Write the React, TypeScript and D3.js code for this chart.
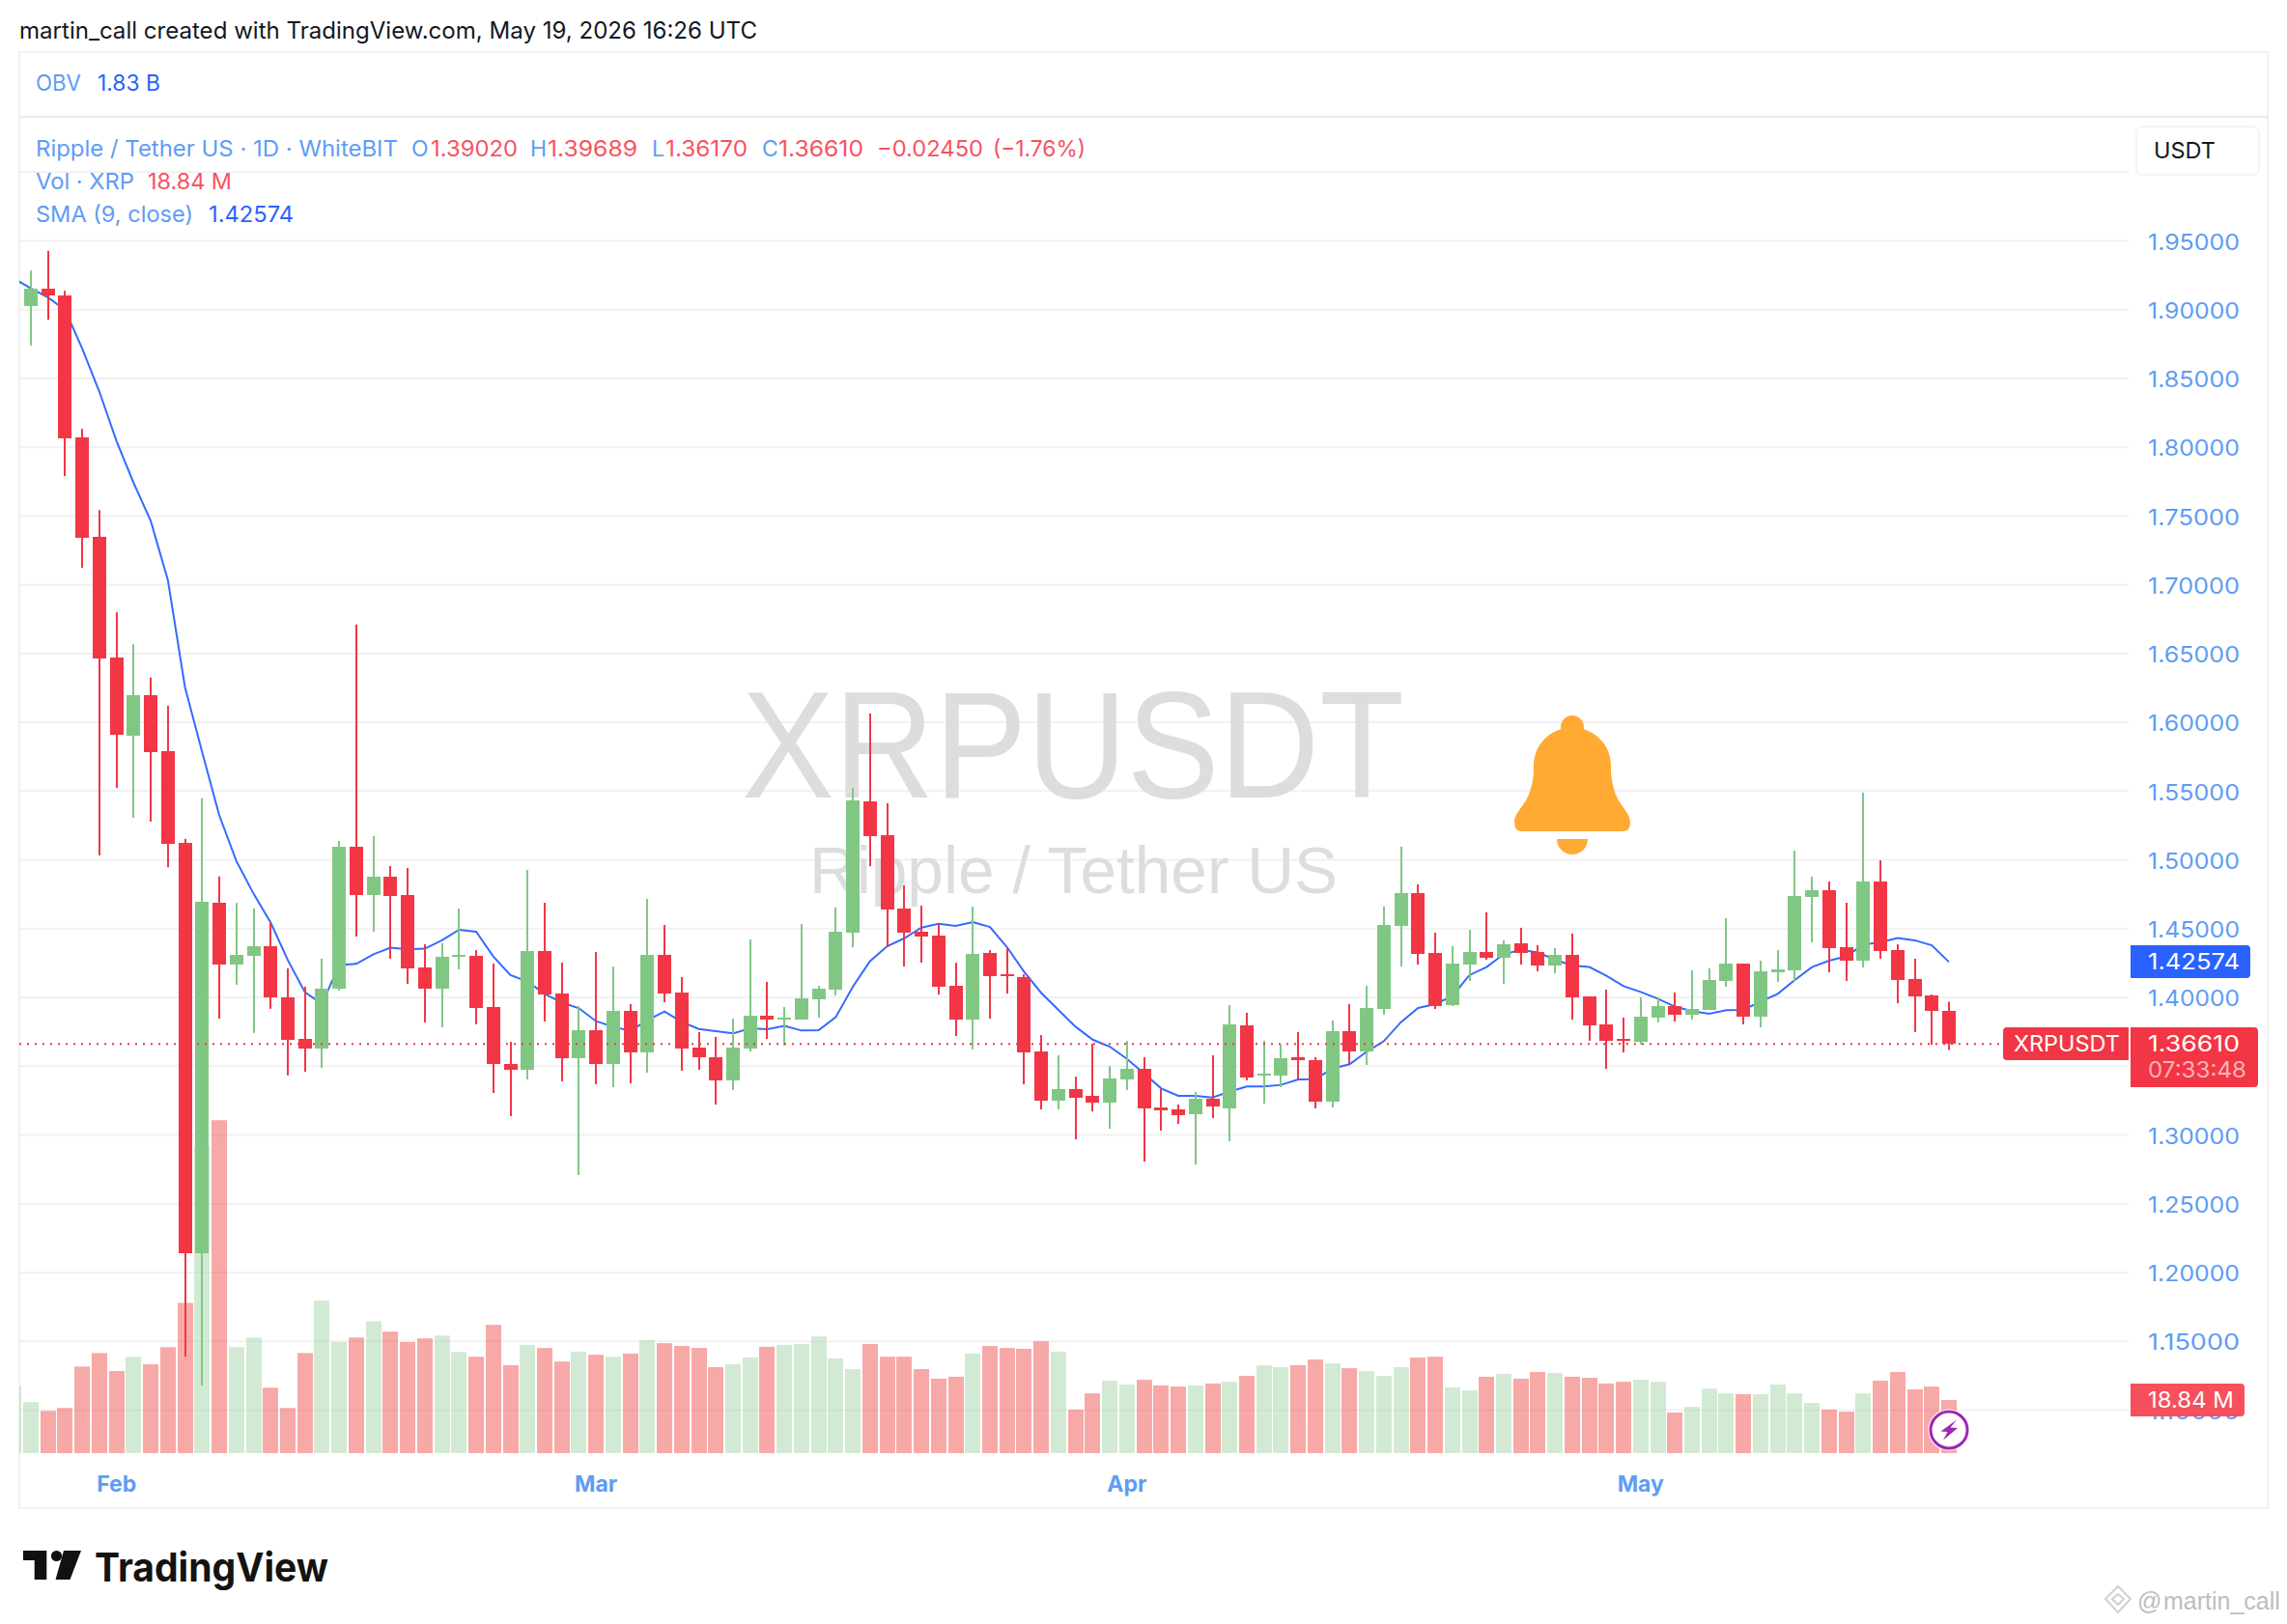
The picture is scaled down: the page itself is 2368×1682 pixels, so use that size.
import React from "react";
import * as d3 from "d3";

const opens = [
  1.9025,1.9151,1.9106,1.8072,1.7351,1.6473,1.5905,1.6196,1.5788,1.5121,
  1.2141,1.4687,1.4239,1.4302,1.4374,1.4002,1.3698,1.3628,1.4064,1.5095,
  1.4744,1.4878,1.4744,1.4218,1.4064,1.4295,1.4302,1.3930,1.3516,1.3474,
  1.4337,1.4028,1.3558,1.3762,1.3516,1.3902,1.3600,1.4309,1.4035,1.3635,
  1.3565,1.3397,1.3628,1.3867,1.3839,1.3838,1.3986,1.4056,1.4470,1.5425,
  1.5179,1.4646,1.4477,1.4449,1.4084,1.3838,1.4323,1.4168,1.4147,1.3607,
  1.3249,1.3333,1.3284,1.3235,1.3403,1.3480,1.3199,1.3185,1.3150,1.3263,
  1.3192,1.3797,1.3432,1.3432,1.3565,1.3544,1.3242,1.3755,1.3607,1.3916,
  1.4520,1.4759,1.4323,1.3944,1.4239,1.4330,1.4288,1.4394,1.4330,1.4232,
  1.4309,1.4008,1.3804,1.3699,1.3678,1.3853,1.3937,1.3874,1.3909,1.4120,
  1.4246,1.3860,1.4183,1.4197,1.4730,1.4780,1.4365,1.4267,1.4843,1.4344,
  1.4134,1.4014,1.3902,
];
const highs = [
  1.9285,1.9428,1.9137,1.8134,1.7543,1.6800,1.6567,1.6326,1.6120,1.5153,
  1.5448,1.4880,1.4687,1.4647,1.4544,1.4212,1.4078,1.4281,1.5138,1.6711,
  1.5173,1.4955,1.4941,1.4386,1.4393,1.4646,1.4344,1.4246,1.3677,1.4927,
  1.4688,1.4253,1.3937,1.4330,1.4225,1.3951,1.4716,1.4527,1.4148,1.3748,
  1.3713,1.3846,1.4422,1.4113,1.3930,1.4533,1.4084,1.4653,1.5523,1.6064,
  1.5411,1.4814,1.4667,1.4533,1.4252,1.4660,1.4344,1.4365,1.4168,1.3726,
  1.3579,1.3424,1.3663,1.3501,1.3684,1.3565,1.3333,1.3221,1.3312,1.3579,
  1.3944,1.3888,1.3685,1.3657,1.3748,1.3565,1.3832,1.3951,1.4085,1.4660,
  1.5096,1.4822,1.4471,1.4373,1.4492,1.4618,1.4415,1.4506,1.4380,1.4359,
  1.4464,1.4008,1.4057,1.3853,1.4001,1.4001,1.4036,1.4197,1.4211,1.4576,
  1.4246,1.4267,1.4344,1.5067,1.4878,1.4843,1.4688,1.5489,1.4997,1.4386,
  1.4281,1.4021,1.39689,
];
const lows = [
  1.8739,1.8927,1.7790,1.7123,1.5032,1.5524,1.5305,1.5278,1.4947,1.1389,
  1.1179,1.3845,1.4092,1.3742,1.3917,1.3433,1.3460,1.3488,1.4049,1.4443,
  1.4478,1.4281,1.4099,1.3818,1.3783,1.4204,1.3804,1.3305,1.3137,1.3404,
  1.3825,1.3390,1.2709,1.3369,1.3347,1.3376,1.3453,1.3965,1.3467,1.3474,
  1.3221,1.3326,1.3607,1.3698,1.3649,1.3838,1.3852,1.4014,1.4365,1.4954,
  1.4365,1.4224,1.4252,1.4021,1.3719,1.3621,1.3845,1.4028,1.3368,1.3185,
  1.3185,1.2968,1.3171,1.3045,1.3326,1.2806,1.3031,1.3080,1.2785,1.3122,
  1.2954,1.3397,1.3228,1.3348,1.3404,1.3193,1.3200,1.3516,1.3509,1.3874,
  1.4225,1.4239,1.3916,1.3937,1.4120,1.4274,1.4099,1.4239,1.4190,1.4176,
  1.3839,1.3685,1.3481,1.3600,1.3657,1.3818,1.3825,1.3839,1.3909,1.4078,
  1.3804,1.3783,1.4113,1.4120,1.4400,1.4183,1.4120,1.4218,1.4281,1.3958,
  1.3748,1.3656,1.3617,
];
const closes = [
  1.9151,1.9106,1.8063,1.7342,1.6464,1.5909,1.6196,1.5784,1.5117,1.2141,
  1.4696,1.4239,1.4311,1.4374,1.4002,1.3693,1.3628,1.4064,1.5095,1.4744,
  1.4878,1.4737,1.4211,1.4064,1.4295,1.4309,1.3923,1.3516,1.3474,1.4337,
  1.4021,1.3558,1.3762,1.3516,1.3902,1.3600,1.4309,1.4028,1.3628,1.3565,
  1.3397,1.3635,1.3867,1.3839,1.3853,1.3993,1.4063,1.4477,1.5432,1.5172,
  1.4639,1.4470,1.4442,1.4077,1.3838,1.4316,1.4154,1.4154,1.3600,1.3249,
  1.3333,1.3270,1.3235,1.3410,1.3480,1.3192,1.3178,1.3143,1.3263,1.3207,
  1.3803,1.3418,1.3446,1.3558,1.3544,1.3242,1.3755,1.3607,1.3923,1.4527,
  1.4759,1.4316,1.3937,1.4246,1.4330,1.4288,1.4387,1.4323,1.4232,1.4309,
  1.4001,1.3797,1.3685,1.3685,1.3860,1.3937,1.3874,1.3916,1.4127,1.4246,
  1.3860,1.4190,1.4204,1.4737,1.4780,1.4358,1.4267,1.4843,1.4337,1.4127,
  1.4007,1.3902,1.3661,
];
// Volume in millions; the first entry belongs to the bar clipped at the left edge.
const clippedVolume = 23.9;
const clippedUp = true;
const volumes = [
  18.1,15.0,16.0,30.7,35.5,29.1,34.2,31.5,37.6,53.3,
  108.9,118.1,37.6,41.0,23.2,16.0,35.5,54.1,39.4,41.0,
  46.8,43.1,39.4,40.7,41.7,35.9,34.2,45.5,31.2,38.4,
  37.3,32.5,36.0,34.9,34.2,35.3,40.1,39.0,38.0,37.3,
  30.5,31.5,33.9,37.7,38.4,38.7,41.4,33.6,29.8,38.7,
  34.2,34.2,29.8,26.4,27.1,35.3,38.0,37.3,37.0,39.7,
  36.0,15.4,21.2,25.7,24.3,26.0,24.0,23.6,24.0,24.7,
  25.3,27.4,31.2,30.5,31.2,33.2,31.8,30.1,29.1,27.4,
  30.5,33.9,34.2,23.3,22.3,27.1,28.1,26.4,28.8,28.4,
  27.1,26.7,24.7,25.3,26.0,25.3,14.4,16.4,22.9,21.2,
  20.9,20.9,24.3,21.2,17.8,15.4,14.7,21.2,25.7,28.8,
  22.6,23.6,18.84,
];
// SMA(9) — first value is at index -1, off the left edge of the plot.
const sma = [
  1.9227,1.9155,1.9088,1.8998,1.8716,1.8403,1.8045,1.7740,1.7463,1.7033,
  1.6254,1.5784,1.5323,1.4991,1.4754,1.4544,1.4271,1.4038,1.3953,1.4235,
  1.4244,1.4314,1.4361,1.4349,1.4354,1.4415,1.4492,1.4478,1.4298,1.4162,
  1.4115,1.4026,1.3963,1.3921,1.3827,1.3787,1.3757,1.3834,1.3897,1.3822,
  1.3771,1.3755,1.3738,1.3776,1.3769,1.3793,1.3759,1.3761,1.3857,1.4079,
  1.4264,1.4372,1.4430,1.4508,1.4536,1.4519,1.4547,1.4512,1.4365,1.4185,
  1.4032,1.3909,1.3787,1.3693,1.3642,1.3553,1.3448,1.3338,1.3284,1.3284,
  1.3272,1.3315,1.3352,1.3352,1.3364,1.3404,1.3406,1.3483,1.3514,1.3605,
  1.3682,1.3820,1.3923,1.3951,1.4010,1.4162,1.4221,1.4314,1.4345,1.4326,
  1.4274,1.4232,1.4221,1.4157,1.4082,1.4040,1.3991,1.3933,1.3900,1.3881,
  1.3907,1.3909,1.3970,1.4026,1.4127,1.4220,1.4267,1.4298,1.4384,1.4400,
  1.4431,1.4415,1.4379,1.42574,
];
const gridPrices = d3.range(0, 19).map((i) => +(2.0 - i * 0.05).toFixed(2));
// 2.00 sits behind the legend and 1.35 is hidden by the last-price tag in the picture.
const priceLabels = gridPrices.filter((p) => p !== 2.0 && p !== 1.35);
const monthLabels = ["Feb", "Mar", "Apr", "May"];
const monthIndexes = [5, 33, 64, 94];

const lastClose = 1.3661;
const lastSma = 1.42574;

const BLUE = "#5E9CF5";
const VALUE_BLUE = "#2962FF";
const RED = "#F23645";
const LEG_RED = "#F7525F";
const GREEN = "#81C784";
const GRID = "#F1F1F2";
const FONT = "Inter, 'Noto Sans', sans-serif";

const xS = d3.scaleLinear().domain([0, 112]).range([32, 2018]);
const yS = d3.scaleLinear().domain([1.45, 1.1]).range([961.8, 1460.4]);
const volS = d3.scaleLinear().domain([0, 18.84]).range([1505, 1450]);

const T = ({ x, y, s, c, size = 23, w, anchor, weight, family, ls }: any) => (
  <text
    x={x}
    y={y + 1.2}
    fill={c}
    fontSize={size}
    fontFamily={family || FONT}
    fontWeight={weight}
    textAnchor={anchor}
    letterSpacing={ls}
    dominantBaseline="central"
    textLength={w}
    lengthAdjust={w ? "spacingAndGlyphs" : undefined}
  >
    {s}
  </text>
);

export default function App() {
  const smaLine = d3
    .line<number>()
    .x((_, i) => xS(i - 1))
    .y((d) => yS(d));
  const n = closes.length;
  const volumeBars = [
    { i: -1, v: clippedVolume, up: clippedUp },
    ...volumes.map((v, i) => ({ i, v, up: closes[i] >= opens[i] })),
  ];
  return (
    <svg
      width={2368}
      height={1682}
      viewBox="0 0 2368 1682"
      style={{ position: "absolute", left: 0, top: 0, display: "block", background: "#fff" }}
    >
      <defs>
        <clipPath id="plot">
          <rect x={20} y={122} width={2184} height={1440} />
        </clipPath>
      </defs>

      <T x={20} y={30.5} s="martin_call created with TradingView.com, May 19, 2026 16:26 UTC" c="#131722" size={24} w={764} />

      {/* frame */}
      <rect x={20} y={54} width={2328} height={1508} fill="none" stroke={GRID} strokeWidth={2} />
      <line x1={20} x2={2348} y1={121} y2={121} stroke="#EDEDED" strokeWidth={2.5} />

      {/* grid */}
      {gridPrices.map((p) => (
        <line key={p} x1={20} x2={2204} y1={yS(p)} y2={yS(p)} stroke={GRID} strokeWidth={2} />
      ))}

      {/* watermark */}
      <text x={768} y={826} fontSize={158} fill="#DDDDDF" fontFamily="'Liberation Sans', Arial, sans-serif" textLength={686} lengthAdjust="spacingAndGlyphs">
        XRPUSDT
      </text>
      <text x={838} y={925} fontSize={68} fill="#DDDDDF" fontFamily="'Liberation Sans', Arial, sans-serif" textLength={547} lengthAdjust="spacingAndGlyphs">
        Ripple / Tether US
      </text>

      {/* bell */}
      <g transform="translate(1500,700) scale(0.3333)" fill="#FFAB33">
        <circle cx={384} cy={159} r={36} />
        <path d="M228,483 Q204,483 204,455 C204,425 240,400 252,360 C265,320 264,300 264,280 C264,215 310,165 384,160 C458,165 504,215 504,280 C504,300 504,320 516,360 C528,400 564,425 564,455 Q564,483 540,483 Z" />
        <path d="M336,507 H432 A48,48 0 0 1 336,507 Z" />
      </g>

      <g clipPath="url(#plot)">
        {/* volume */}
        {volumeBars.map((b) => (
          <rect
            key={b.i}
            x={Math.round(xS(b.i)) - 8}
            y={volS(b.v)}
            width={16}
            height={volS(0) - volS(b.v)}
            fill={b.up ? "rgba(165,214,167,0.5)" : "rgba(239,83,80,0.5)"}
          />
        ))}
        {/* SMA */}
        <path d={smaLine(sma) || ""} fill="none" stroke={VALUE_BLUE} strokeWidth={2} strokeOpacity={0.95} />
        {/* candles */}
        {d3.range(n).map((i) => {
          const up = closes[i] >= opens[i];
          const color = up ? GREEN : RED;
          const cx = Math.round(xS(i));
          const top = Math.round(yS(Math.max(opens[i], closes[i])));
          const bot = Math.round(yS(Math.min(opens[i], closes[i])));
          return (
            <g key={i} fill={color}>
              <rect x={cx - 1} y={yS(highs[i])} width={2} height={yS(lows[i]) - yS(highs[i])} />
              <rect x={cx - 7} y={top} width={14} height={Math.max(2, bot - top)} />
            </g>
          );
        })}
      </g>

      {/* price line */}
      <line x1={20} x2={2074} y1={yS(lastClose)} y2={yS(lastClose)} stroke={RED} strokeWidth={2} strokeDasharray="2 6" />

      {/* price axis */}
      {priceLabels.map((p) => (
        <T key={p} x={2224} y={yS(p)} s={p.toFixed(5)} c={BLUE} w={95} />
      ))}

      {/* time axis */}
      {monthLabels.map((m, i) => (
        <T key={m} x={xS(monthIndexes[i])} y={1536} s={m} c={BLUE} anchor="middle" weight={700} size={23} />
      ))}

      {/* legend */}
      <T x={37} y={85} s="OBV" c={BLUE} w={47} />
      <T x={101} y={85} s="1.83 B" c={VALUE_BLUE} w={65} />
      <T x={37} y={153} s="Ripple / Tether US · 1D · WhiteBIT" c={BLUE} w={375} />
      <T x={426} y={153} s="O" c={BLUE} />
      <T x={446} y={153} s="1.39020" c={LEG_RED} w={90} />
      <T x={549} y={153} s="H" c={BLUE} />
      <T x={567} y={153} s="1.39689" c={LEG_RED} w={93} />
      <T x={675} y={153} s="L" c={BLUE} />
      <T x={689} y={153} s="1.36170" c={LEG_RED} w={85} />
      <T x={789} y={153} s="C" c={BLUE} />
      <T x={806} y={153} s="1.36610" c={LEG_RED} w={88} />
      <T x={908} y={153} s="−0.02450" c={LEG_RED} w={110} />
      <T x={1028} y={153} s="(−1.76%)" c={LEG_RED} w={96} />
      <T x={37} y={187} s="Vol · XRP" c={BLUE} w={102} />
      <T x={153} y={187} s="18.84 M" c={LEG_RED} w={87} />
      <T x={37} y={221} s="SMA (9, close)" c={BLUE} w={163} />
      <T x={216} y={221} s="1.42574" c={VALUE_BLUE} w={88} />

      {/* USDT box */}
      <rect x={2212} y={131} width={127} height={50} rx={6} fill="#fff" stroke={GRID} strokeWidth={1.5} />
      <T x={2230} y={155} s="USDT" c="#131722" size={23} w={64} />

      {/* tags */}
      <path d="M2206,979 H2326 a4,4 0 0 1 4,4 V1009 a4,4 0 0 1 -4,4 H2206 Z" fill={VALUE_BLUE} />
      <T x={2224} y={995} s={lastSma.toFixed(5)} c="#fff" w={95} />

      <path d="M2078,1064 H2204 V1098 H2078 a4,4 0 0 1 -4,-4 V1068 a4,4 0 0 1 4,-4 Z" fill={RED} />
      <T x={2085} y={1080} s="XRPUSDT" c="#fff" w={110} />

      <path d="M2206,1064 H2334 a4,4 0 0 1 4,4 V1122 a4,4 0 0 1 -4,4 H2206 Z" fill={RED} />
      <T x={2224} y={1080} s="1.36610" c="#fff" w={95} />
      <T x={2224} y={1107} s="07:33:48" c="#FAB4BA" w={102} />

      <path d="M2206,1433 H2320 a4,4 0 0 1 4,4 V1463 a4,4 0 0 1 -4,4 H2206 Z" fill="#F5505B" />
      <T x={2224} y={1449} s="18.84 M" c="#fff" w={89} />

      {/* lightning marker */}
      <circle cx={xS(112)} cy={1481} r={21.5} fill="#fff" />
      <circle cx={xS(112)} cy={1481} r={19} fill="#fff" stroke="#9C27B0" strokeWidth={3} />
      <path
        transform={`translate(${xS(112)},1481)`}
        d="M8,-10.5 L-8.5,1.5 L-1.5,2 L-6,10.5 L9,-2 L1.5,-2.5 Z"
        fill="#9C27B0"
      />

      {/* logo */}
      <g fill="#111">
        <path d="M24,1606 H48.3 V1636 H35.7 V1616 H24 Z" />
        <circle cx={58.5} cy={1611.5} r={5.6} />
        <path d="M66,1606 H84 L72.5,1636 H57.5 Z" />
      </g>
      <T x={98} y={1622} s="TradingView" c="#131313" size={41} weight={700} w={242} />

      {/* site watermark */}
      <g fill="none" stroke="#C9C9C9" strokeWidth={2} opacity={0.85}>
        <path d="M2193,1643 L2206,1656 L2193,1670 L2180,1656 Z" />
        <path d="M2193,1651 L2199,1656 L2193,1662 L2187,1656 Z" />
      </g>
      <T x={2213} y={1657} s="@" c="#BDBDBD" size={25} family="'Liberation Sans', sans-serif" />
      <T x={2240} y={1657} s="martin_call" c="#BDBDBD" size={25} family="'Liberation Sans', sans-serif" />
    </svg>
  );
}
